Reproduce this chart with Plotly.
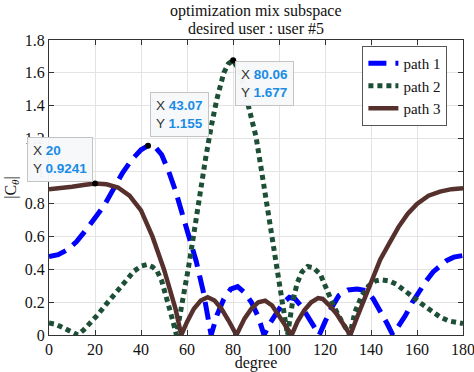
import plotly.graph_objects as go

# ---------------- data ----------------
p1_deg = [0, 4, 8, 12, 16, 20, 24, 28, 32, 36, 40, 43.07, 46, 49, 52, 55, 58, 61, 64, 67, 69, 70.5,
          73, 76, 79, 82, 85, 88, 91, 93.5, 96, 99, 102, 104.5, 107, 110, 113, 115.5, 117.5,
          120, 123, 126, 130, 134, 138, 141, 144, 147, 149.5, 152, 155, 158, 161, 164, 167, 170, 173, 176, 180]
p1_val = [0.478, 0.49, 0.52, 0.57, 0.64, 0.71, 0.79, 0.89, 0.99, 1.07, 1.13, 1.155, 1.15, 1.10, 1.00, 0.88, 0.74, 0.60, 0.45, 0.27, 0.12, 0.0,
          0.12, 0.22, 0.28, 0.295, 0.26, 0.20, 0.11, 0.0, 0.07, 0.13, 0.20, 0.23, 0.22, 0.17, 0.10, 0.04, 0.0,
          0.08, 0.17, 0.24, 0.275, 0.28, 0.27, 0.22, 0.15, 0.07, 0.0, 0.05, 0.12, 0.20, 0.27, 0.33, 0.385, 0.42, 0.455, 0.475, 0.485]

p2_deg = [0, 3, 6, 9, 12.5, 15, 18, 21, 25, 29, 33, 37, 40, 42.5, 45, 47, 49, 51, 53, 55.4,
          58, 60.5, 63, 65.5, 68, 70.5, 73, 76, 78, 80.06, 82, 84, 87, 90, 93, 95.5, 98, 100, 102, 103.7,
          106, 108, 110, 112.5, 115, 118, 121, 124, 127, 130.8, 133, 136, 139, 142, 144.5, 148, 151, 155,
          158, 162, 166, 170, 174, 178, 180]
p2_val = [0.073, 0.065, 0.045, 0.025, 0.0, 0.03, 0.07, 0.12, 0.19, 0.26, 0.33, 0.39, 0.42, 0.43, 0.415, 0.39, 0.33, 0.24, 0.13, 0.0,
          0.19, 0.40, 0.62, 0.86, 1.07, 1.27, 1.44, 1.60, 1.655, 1.677, 1.63, 1.55, 1.37, 1.21, 0.95, 0.72, 0.48, 0.31, 0.14, 0.0,
          0.21, 0.32, 0.385, 0.418, 0.41, 0.37, 0.27, 0.17, 0.09, 0.0, 0.14, 0.24, 0.30, 0.33, 0.337, 0.33, 0.31, 0.27,
          0.235, 0.19, 0.15, 0.11, 0.085, 0.072, 0.07]

p3_deg = [0, 5, 10, 15, 20, 25, 30, 35, 40, 45, 50, 55, 57.5, 60, 63, 66, 69, 72, 75, 78, 81.5,
          85, 88, 91, 94, 97, 100, 103, 105.5, 108, 111, 114, 117, 119, 122, 125, 128, 131,
          134, 137, 140, 144, 148, 152, 156, 160, 165, 170, 175, 180]
p3_val = [0.89, 0.895, 0.905, 0.915, 0.9241, 0.92, 0.90, 0.85, 0.76, 0.60, 0.40, 0.16, 0.0, 0.08, 0.16, 0.21, 0.23, 0.21, 0.16, 0.09, 0.0,
          0.10, 0.16, 0.20, 0.21, 0.18, 0.12, 0.05, 0.0, 0.08, 0.15, 0.20, 0.225, 0.22, 0.18, 0.13, 0.07, 0.0,
          0.11, 0.22, 0.32, 0.46, 0.56, 0.66, 0.74, 0.80, 0.85, 0.875, 0.89, 0.895]

tip_x = [20, 43.07, 80.06]
tip_y = [0.9241, 1.155, 1.677]
tip_xlabel = ["20", "43.07", "80.06"]
tip_ylabel = ["0.9241", "1.155", "1.677"]

x_ticks = [0, 20, 40, 60, 80, 100, 120, 140, 160, 180]
y_ticks = [0, 0.2, 0.4, 0.6, 0.8, 1.0, 1.2, 1.4, 1.6, 1.8]
y_ticklabels = ["0", "0.2", "0.4", "0.6", "0.8", "1", "1.2", "1.4", "1.6", "1.8"]

title_lines = ["optimization mix subspace", "desired user : user #5"]

# ---------------- figure ----------------
serif = "Liberation Serif, Times New Roman, serif"
sans = "Liberation Sans, Arial, sans-serif"

fig = go.Figure()
fig.add_trace(go.Scatter(x=p1_deg, y=p1_val, mode="lines", name="path 1",
                         line=dict(color="#0000ff", width=5, dash="18px,9px")))
fig.add_trace(go.Scatter(x=p2_deg, y=p2_val, mode="lines", name="path 2",
                         line=dict(color="#1d4f36", width=5, dash="5px,4px")))
fig.add_trace(go.Scatter(x=p3_deg, y=p3_val, mode="lines", name="path 3",
                         line=dict(color="#55302c", width=4.5)))
fig.add_trace(go.Scatter(x=tip_x, y=tip_y, mode="markers", showlegend=False,
                         marker=dict(color="black", size=6)))

anchors = [("right", "bottom", -2, 2), ("left", "bottom", 2, 9), ("left", "top", 2, -1)]
for i in range(len(tip_x)):
    xa, ya, xs, ys = anchors[i]
    txt = ("X <span style='color:#1a8ce6'><b>%s</b></span><br>Y <span style='color:#1a8ce6'><b>%s</b></span>"
           % (tip_xlabel[i], tip_ylabel[i]))
    fig.add_annotation(x=tip_x[i], y=tip_y[i], xref="x", yref="y", text=txt, showarrow=False,
                       xanchor=xa, yanchor=ya, xshift=xs, yshift=ys, align="left",
                       font=dict(family=sans, size=13.5, color="#333333"),
                       bgcolor="rgba(247,248,250,0.97)", bordercolor="#c4c4c4", borderwidth=1, borderpad=5)

# title as two centred lines
fig.add_annotation(x=0.5, y=1, xref="paper", yref="paper", text=title_lines[0], showarrow=False,
                   xanchor="center", yanchor="bottom", yshift=18,
                   font=dict(family=serif, size=16, color="#111111"))
fig.add_annotation(x=0.5, y=1, xref="paper", yref="paper", text=title_lines[1], showarrow=False,
                   xanchor="center", yanchor="bottom", yshift=1,
                   font=dict(family=serif, size=16, color="#111111"))

fig.update_layout(
    width=474, height=372,
    margin=dict(l=49, r=11, t=40, b=37, autoexpand=False),
    paper_bgcolor="white", plot_bgcolor="white",
    font=dict(family=serif, size=16, color="#111111"),
    legend=dict(x=0.757, y=0.98, xanchor="left", yanchor="top",
                bgcolor="white", bordercolor="#555555", borderwidth=1,
                font=dict(family=serif, size=15, color="#111111"),
                tracegroupgap=0, itemwidth=30),
    showlegend=True,
)
fig.update_xaxes(range=[0, 180], tickvals=x_ticks, ticks="inside", ticklen=5, tickcolor="#333333",
                 showline=True, linecolor="#333333", linewidth=1, mirror="ticks",
                 showgrid=True, gridcolor="#e3e3e3", zeroline=False, automargin=False,
                 ticklabeloverflow="allow",
                 title=dict(text="degree", standoff=0, font=dict(family=serif, size=16)),
                 tickfont=dict(family=serif, size=16))
fig.update_yaxes(range=[0, 1.8], tickvals=y_ticks, ticktext=y_ticklabels, ticks="inside", ticklen=5,
                 tickcolor="#333333", showline=True, linecolor="#333333", linewidth=1, mirror="ticks",
                 showgrid=True, gridcolor="#e3e3e3", zeroline=False, automargin=False,
                 ticklabeloverflow="allow",
                 title=dict(text="|C<sub><i>θ</i></sub>|", standoff=4, font=dict(family=serif, size=16)),
                 tickfont=dict(family=serif, size=16))

# remove the browser's default 8px body margin so the figure sits at the page corner
fig.write_html("out.html", config={"displayModeBar": False},
               post_script="document.body.style.margin='0';")
